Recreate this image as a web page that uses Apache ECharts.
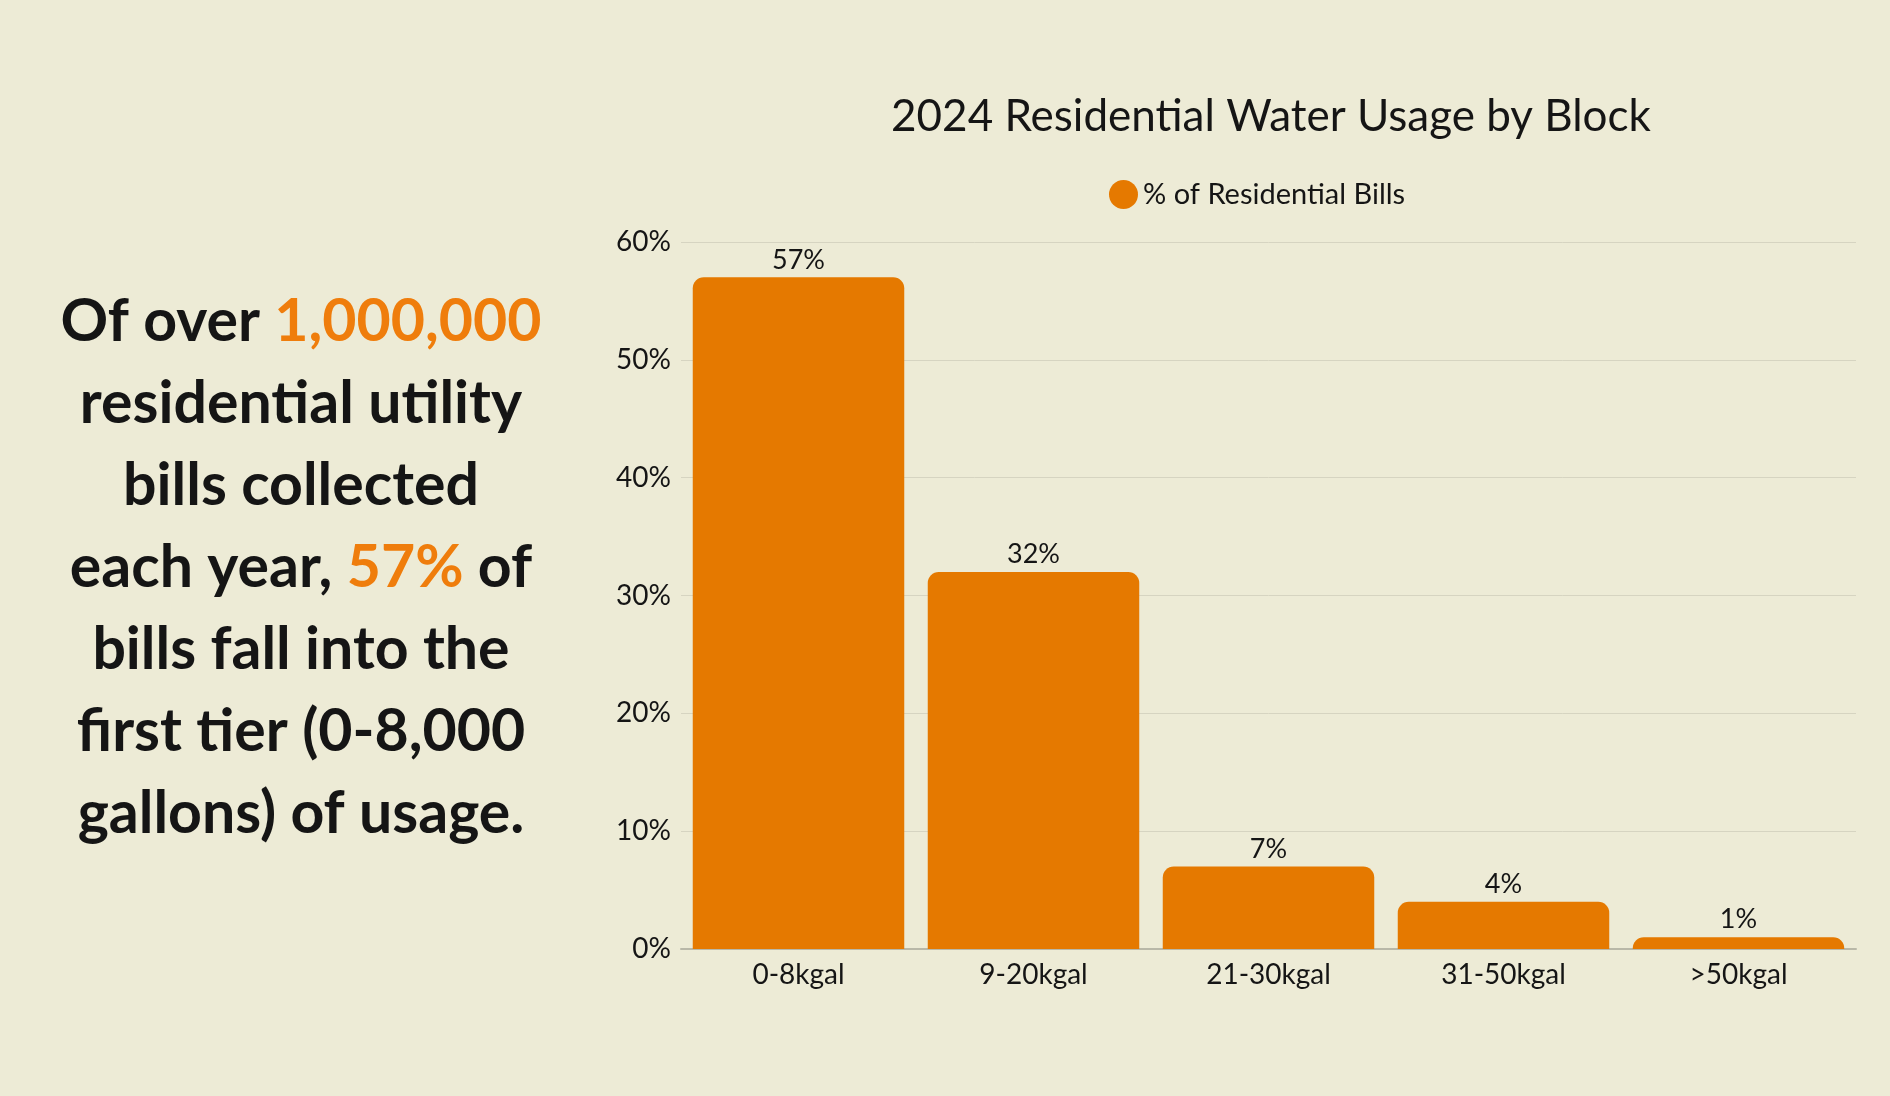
<!DOCTYPE html>
<html>
<head>
<meta charset="utf-8">
<script src="https://cdn.jsdelivr.net/npm/echarts@6/dist/echarts.min.js"></script>
<style>
  html, body { margin: 0; padding: 0; background: #edebd6; }
  #chart { width: 1890px; height: 1096px; }
</style>
</head>
<body>
<div id="chart"></div>
<script>
const categories = ['0-8kgal', '9-20kgal', '21-30kgal', '31-50kgal', '>50kgal']
const billShare = [57, 32, 7, 4, 1]
const yTicks = [0, 10, 20, 30, 40, 50, 60]

const ORANGE = '#e57900'
const TEXT = '#151515'
const FONT = 'Lato'

const chart = echarts.init(document.getElementById('chart'))

const option = {
  backgroundColor: '#edebd6',
  animation: false,
  title: [
    {
      text: '2024 Residential Water Usage by Block',
      left: 1266,
      top: 90,
      textAlign: 'center',
      textStyle: { fontFamily: FONT, fontSize: 44, fontWeight: 'normal', color: TEXT },
    },
    {
      // left side headline
      text: [
        'Of over {o|1,000,000}',
        'residential utility',
        'bills collected',
        'each year, {o|57%} of',
        'bills fall into the',
        'first tier (0-8,000',
        'gallons) of usage.',
      ].join('\n'),
      left: 296,
      top: 276,
      textAlign: 'center',
      textStyle: {
        fontFamily: FONT,
        fontSize: 59,
        fontWeight: 'bold',
        color: TEXT,
        lineHeight: 82,
        align: 'center',
        rich: {
          o: { fontFamily: FONT, fontSize: 59, fontWeight: 'bold', color: '#ef7d0c', lineHeight: 82 },
        },
      },
    },
  ],
  legend: {
    data: ['% of Residential Bills'],
    left: 1104,
    top: 175,
    icon: 'circle',
    itemWidth: 29,
    itemHeight: 29,
    itemGap: 10,
    textStyle: { fontFamily: FONT, fontSize: 29, color: TEXT },
  },
  grid: {
    left: 681,
    right: 34,
    top: 242,
    bottom: 147,
    containLabel: false,
  },
  xAxis: {
    type: 'category',
    data: categories,
    axisTick: { show: false },
    axisLine: { lineStyle: { color: '#b9b8a8', width: 2 } },
    axisLabel: { fontFamily: FONT, fontSize: 28, color: TEXT, margin: 12 },
  },
  yAxis: {
    type: 'value',
    min: yTicks[0],
    max: yTicks[yTicks.length - 1],
    interval: 10,
    axisLabel: { fontFamily: FONT, fontSize: 28, color: TEXT, margin: 10, formatter: '{value}%' },
    splitLine: { lineStyle: { color: '#d6d4c1', width: 1 } },
    axisLine: { show: false },
    axisTick: { show: false },
  },
  series: [
    {
      name: '% of Residential Bills',
      type: 'bar',
      data: billShare,
      barCategoryGap: '10%',
      itemStyle: { color: ORANGE, borderRadius: [11, 11, 0, 0] },
      label: {
        show: true,
        position: 'top',
        distance: 4,
        formatter: '{c}%',
        fontFamily: FONT,
        fontSize: 27,
        color: TEXT,
      },
    },
  ],
}

chart.setOption(option)
</script>
</body>
</html>
